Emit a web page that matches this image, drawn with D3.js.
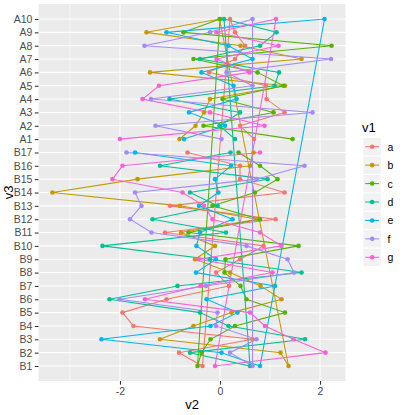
<!DOCTYPE html>
<html><head><meta charset="utf-8">
<script src="https://cdn.jsdelivr.net/npm/d3@7"></script>
<style>body{margin:0;background:#fff}text{font-family:"Liberation Sans",Arial,sans-serif}</style>
</head><body><svg id="c" width="400" height="415"></svg>
<script>
// path order of categories (data order)
const pathCats = ["A1","A2","A3","A4","A5","A6","A7","A8","A9","A10",
  "B1","B2","B3","B4","B5","B6","B7","B8","B9","B10","B11","B12","B13","B14","B15","B16","B17"];
// y-axis order bottom to top
const yCats = ["B1","B2","B3","B4","B5","B6","B7","B8","B9","B10","B11","B12","B13","B14","B15","B16","B17",
  "A1","A2","A3","A4","A5","A6","A7","A8","A9","A10"];
const groups = ["a","b","c","d","e","f","g"];
const colors = ["#F8766D","#C49A00","#53B400","#00C094","#00B6EB","#A58AFF","#FB61D7"];
const xTicks = [-2,0,2];
const a = [0.68,0.40,1.29,0.93,0.92,-0.22,0.30,0.50,0.30,0.20,-0.35,-0.82,0.65,-1.73,-1.95,-1.07,0.18,-0.08,0.40,0.87,-1.10,1.11,-1.00,1.29,0.40,0.40,-0.65];
const b = [-0.81,-0.49,-0.32,-0.20,1.30,-1.40,1.63,0.41,-1.47,-0.01,1.37,1.21,-1.20,-0.53,0.23,1.23,0.81,0.20,-0.50,-0.10,-0.78,0.75,-0.80,-3.35,-1.65,0.60,0.67];
const c = [1.45,-0.33,1.07,0.05,1.27,0.75,-0.53,2.23,-0.73,0.00,-0.45,-0.37,-0.19,0.30,1.30,0.53,0.41,0.09,0.11,1.57,-0.63,0.80,-0.15,0.70,1.15,0.80,0.37];
const d = [0.30,-0.01,0.40,-1.01,1.09,1.18,-0.40,0.80,1.13,0.08,0.60,-0.60,1.70,0.17,-0.40,-2.21,-0.85,1.63,-0.20,-2.35,0.12,-1.35,-0.05,-0.60,0.95,-1.20,0.21];
const e = [-0.72,0.10,-0.62,0.33,0.27,-0.37,0.65,0.17,-1.07,2.09,0.80,0.03,-2.37,-0.19,0.35,-0.27,1.10,-0.48,-0.08,-0.47,-0.40,0.25,-0.42,-0.03,-0.10,0.22,-1.70];
const f = [0.03,-1.29,1.85,-1.38,0.65,0.13,2.22,-1.51,-0.20,0.65,0.65,0.20,0.73,-0.08,-0.05,-2.01,-0.28,1.48,1.35,0.53,-1.37,-1.80,-1.57,-1.70,0.73,1.69,-1.87];
const g = [-2.00,0.89,-0.20,-1.55,-1.22,0.59,-0.07,1.17,-0.07,1.12,-0.10,2.11,1.47,0.90,0.60,-1.50,-0.39,1.05,-0.43,1.23,0.80,-0.15,-0.32,-0.75,-2.15,-1.95,0.80];
const series = [a,b,c,d,e,f,g];

const svg = d3.select("#c");
const P = {l:38.5, r:345.5, t:4, b:381};
const all = series.flat();
const ext = d3.extent(all), pad = (ext[1]-ext[0])*0.05;
const x = d3.scaleLinear().domain([ext[0]-pad, ext[1]+pad]).range([P.l, P.r]);
const y = d3.scalePoint().domain(yCats).range([366, 19]);
const col = d3.scaleOrdinal().domain(groups).range(colors);

svg.append("rect").attr("x",P.l).attr("y",P.t).attr("width",P.r-P.l).attr("height",P.b-P.t).attr("fill","#EBEBEB");
// minor x grid
const minor = [-3,-1,1];
svg.append("g").selectAll("line").data(minor).join("line")
  .attr("x1",v=>x(v)).attr("x2",v=>x(v)).attr("y1",P.t).attr("y2",P.b)
  .attr("stroke","#fff").attr("stroke-width",0.55);
svg.append("g").selectAll("line").data(xTicks).join("line")
  .attr("x1",v=>x(v)).attr("x2",v=>x(v)).attr("y1",P.t).attr("y2",P.b)
  .attr("stroke","#fff").attr("stroke-width",1.07);
svg.append("g").selectAll("line").data(yCats).join("line")
  .attr("y1",v=>y(v)).attr("y2",v=>y(v)).attr("x1",P.l).attr("x2",P.r)
  .attr("stroke","#fff").attr("stroke-width",1.07);

// paths
const line = d3.line().x(p=>x(p.v)).y(p=>y(p.k));
const data = groups.map((gname,i)=>({g:gname, pts: pathCats.map((k,j)=>({k, v: series[i][j]}))}));
svg.append("g").selectAll("path").data(data).join("path")
  .attr("d",dd=>line(dd.pts)).attr("fill","none").attr("stroke",dd=>col(dd.g)).attr("stroke-width",1.07);
// points
const pg = svg.append("g");
data.forEach(dd=>{
  pg.selectAll(null).data(dd.pts).join("circle")
    .attr("cx",p=>x(p.v)).attr("cy",p=>y(p.k)).attr("r",2.3).attr("fill",col(dd.g));
});

// axes
const xAxis = svg.append("g").attr("transform",`translate(0,${P.b})`)
  .call(d3.axisBottom(x).tickValues(xTicks).tickSize(3.7).tickPadding(2.5).tickFormat(d3.format("d")));
const yAxis = svg.append("g").attr("transform",`translate(${P.l},0)`)
  .call(d3.axisLeft(y).tickSize(3.7).tickPadding(2.5));
[xAxis,yAxis].forEach(ax=>{
  ax.select(".domain").remove();
  ax.selectAll(".tick line").attr("stroke","#333333").attr("stroke-width",1.07);
  ax.selectAll(".tick text").attr("fill","#4D4D4D").style("font-size","10.5px").style("font-family","'Liberation Sans',Arial,sans-serif");
});
xAxis.selectAll(".tick text").text(v=> v<0 ? "-"+Math.abs(v) : v);

svg.append("text").attr("x",(P.l+P.r)/2).attr("y",409).attr("text-anchor","middle")
  .style("font-size","13px").attr("fill","#000").text("v2");
svg.append("text").attr("transform",`translate(13,${(P.t+P.b)/2}) rotate(-90)`).attr("text-anchor","middle")
  .style("font-size","13px").attr("fill","#000").text("v3");

// legend
const lg = svg.append("g");
lg.append("text").attr("x",362).attr("y",132).style("font-size","13px").attr("fill","#000").text("v1");
const ky = d3.scalePoint().domain(groups).range([146.7,257.3]);
const items = lg.selectAll("g.k").data(groups).join("g").attr("class","k")
  .attr("transform",k=>`translate(363.5,${ky(k)})`);
items.append("rect").attr("x",0).attr("y",-8.6).attr("width",17.3).attr("height",17.3).attr("fill","#F2F2F2");
items.append("line").attr("x1",1.7).attr("x2",15.6).attr("y1",0).attr("y2",0).attr("stroke",k=>col(k)).attr("stroke-width",1.07);
items.append("circle").attr("cx",8.65).attr("cy",0).attr("r",2.3).attr("fill",k=>col(k));
items.append("text").attr("x",24).attr("y",4).style("font-size","10.5px").attr("fill","#000").text(k=>k);
</script></body></html>
